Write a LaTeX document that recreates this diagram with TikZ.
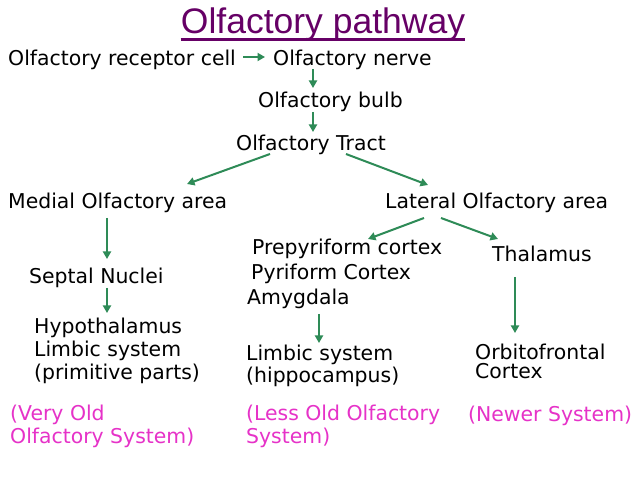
\documentclass[tikz,border=0pt]{standalone}
\usepackage{fontspec}
\setmainfont{DejaVu Sans}
\newfontfamily\titlefont{Liberation Sans}
\usetikzlibrary{arrows.meta,calc}
\definecolor{titlecol}{RGB}{102,0,102}
\definecolor{pinkcol}{RGB}{230,50,200}
\definecolor{arrcol}{RGB}{46,139,87}
\begin{document}
\begin{tikzpicture}[x=1pt,y=-1pt,
  lbl/.style={anchor=base west,inner sep=0pt,font=\fontsize{20.4}{24}\selectfont},
  note/.style={lbl,text=pinkcol},
  arr/.style={draw=arrcol,line width=2pt,-{Triangle[length=7.5pt,width=8pt]}}]
\useasboundingbox[fill=white] (0,0) rectangle (638,478);
% title
\node[anchor=base,inner sep=0pt,text=titlecol,font=\titlefont\fontsize{35.5}{40}\selectfont] (title) at (323,34) {Olfactory pathway};
\draw[titlecol,line width=2.4pt] ($(title.base west)+(0,5.5)$) -- ($(title.base east)+(0,5.5)$);
% nodes
\node[lbl] (rec) at (8,66) {Olfactory receptor cell};
\node[lbl] (nerve) at (273,66) {Olfactory nerve};
\node[lbl] (bulb) at (258,108) {Olfactory bulb};
\node[lbl] (tract) at (236,151) {Olfactory Tract};
\node[lbl] (medial) at (8,209) {Medial Olfactory area};
\node[lbl] (lateral) at (385,209) {Lateral Olfactory area};
\node[lbl] (prep) at (252,255) {Prepyriform cortex};
\node[lbl] (pyr) at (251,280) {Pyriform Cortex};
\node[lbl] (amyg) at (247,305) {Amygdala};
\node[lbl] (thal) at (492,262) {Thalamus};
\node[lbl] (septal) at (29,284) {Septal Nuclei};
\node[lbl] (hypo) at (34,334) {Hypothalamus};
\node[lbl] (limb1) at (34,357) {Limbic system};
\node[lbl] (prim) at (34,380) {(primitive parts)};
\node[lbl] (limb2) at (246,361) {Limbic system};
\node[lbl] (hippo) at (246,383) {(hippocampus)};
\node[lbl] (orbit) at (475,360) {Orbitofrontal};
\node[lbl] (cortex) at (475,379) {Cortex};
\node[note] (very) at (10,421) {(Very Old};
\node[note] (vos) at (10,444) {Olfactory System)};
\node[note] (less) at (246,421) {(Less Old Olfactory};
\node[note] (lsys) at (246,444) {System)};
\node[note] (newer) at (468,422) {(Newer System)};
% connectors
\draw[arr] ($(rec.base east)+(7,-9)$) -- ($(nerve.base west)+(-8,-9)$);
\draw[arr] ($(nerve.base west)+(40,3)$) -- ($(bulb.base west)+(55,-20)$);
\draw[arr] ($(bulb.base west)+(55,4)$) -- ($(tract.base west)+(77,-19)$);
\draw[arr] ($(tract.base west)+(34,3)$) -- ($(medial.base west)+(179,-25)$);
\draw[arr] ($(tract.base west)+(110,3)$) -- ($(lateral.base west)+(43,-24)$);
\draw[arr] ($(medial.base west)+(99,9)$) -- ($(septal.base west)+(78,-25)$);
\draw[arr] ($(septal.base west)+(78,4)$) -- ($(hypo.base west)+(73,-21)$);
\draw[arr] ($(lateral.base west)+(39,9)$) -- ($(prep.base west)+(116,-16)$);
\draw[arr] ($(lateral.base west)+(56,9)$) -- ($(thal.base west)+(6,-23)$);
\draw[arr] ($(amyg.base west)+(72,9)$) -- ($(limb2.base west)+(73,-18)$);
\draw[arr] ($(thal.base west)+(23,15)$) -- ($(orbit.base west)+(40,-27)$);
\end{tikzpicture}
\end{document}
